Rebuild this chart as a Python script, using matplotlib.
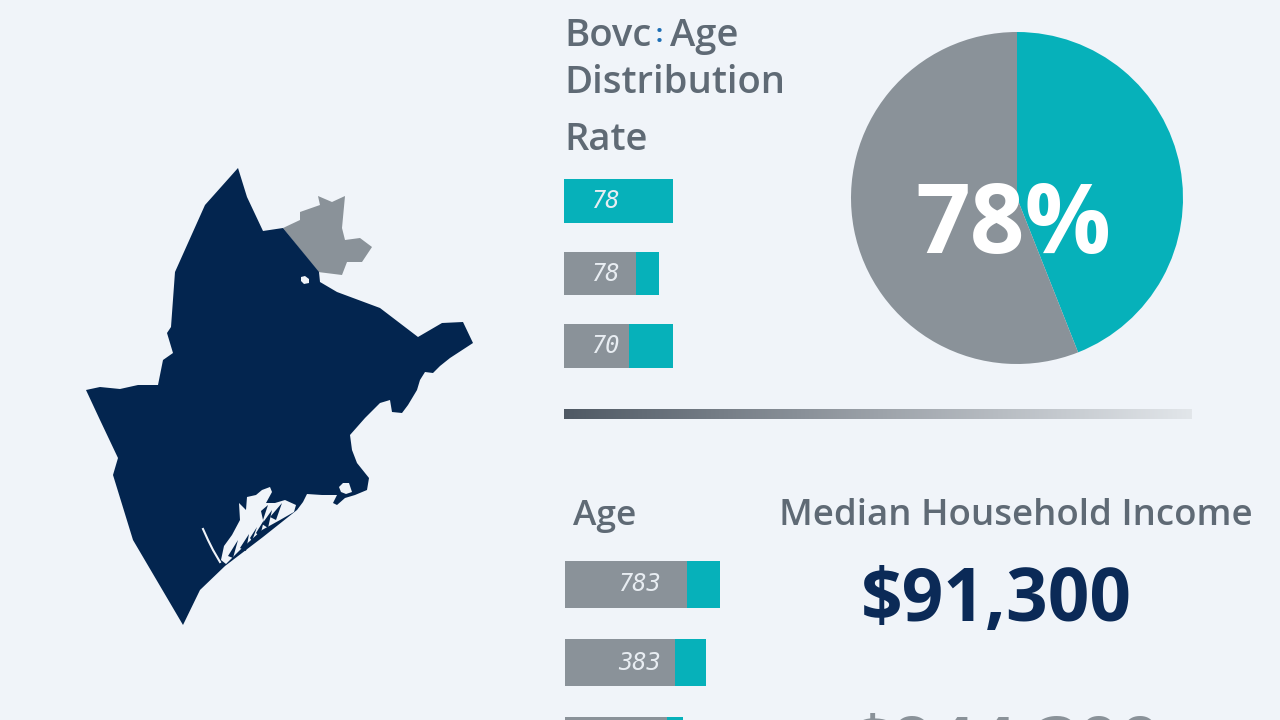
# -*- coding: utf-8 -*-
"""Age distribution / income infographic, rebuilt with matplotlib."""
import numpy as np
import matplotlib
matplotlib.use('Agg')
import matplotlib.pyplot as plt

W, H = 1280, 720
BG = '#F0F4F9'
NAVY = '#03254F'
GRAY = '#8A9299'
TEAL = '#06B1BA'
TXT = '#5F6A75'

# pie: teal share / gray share
pie_values = [44, 56]

# bars, gray part then teal part
rate_gray = [0, 72, 65]
rate_teal = [109, 23, 44]
rate_labels = ['78', '78', '70']
age_gray = [122, 110, 102]
age_teal = [33, 31, 16]
age_labels = ['783', '383', '']

# map outlines (image pixels)
map_x = [238, 247, 263, 283, 319, 320, 337, 380, 418, 442, 463, 473, 450, 440, 433, 425, 420, 417,
         408, 402, 392, 390, 380, 365, 350, 352, 357, 369, 367, 355, 345, 337, 333, 337, 322, 307,
         303, 297, 263, 225, 200, 183, 133, 113,
         118, 100, 86, 100, 120, 138, 158, 163, 173, 167, 171, 175, 205]
map_y = [168, 197, 231, 228, 272, 282, 292, 308, 337, 323, 322, 343, 358, 366, 373, 372, 380, 390,
         405, 413, 412, 400, 403, 418, 435, 450, 463, 478, 490, 495, 498, 505, 503, 495, 495, 494,
         502, 510, 537, 566, 590, 625, 540, 475,
         458, 420, 390, 387, 389, 385, 385, 360, 353, 333, 327, 272, 205]
inset_x = [283, 300, 300, 320, 318, 332, 345, 342, 345, 360, 372, 362, 347, 342, 318]
inset_y = [228, 220, 212, 205, 196, 202, 196, 228, 240, 238, 247, 262, 262, 275, 272]
lake_x = [301, 305, 309, 309, 304, 301]
lake_y = [277, 276, 279, 283, 284, 281]
pocket_x = [339, 343, 349, 352, 346, 341]
pocket_y = [487, 483, 483, 492, 494, 492]
bay_x = [221, 224, 232, 240, 239, 246, 247, 256, 262, 270, 272, 266, 275, 285, 296, 294, 280, 262, 240, 226]
bay_y = [560, 546, 535, 520, 503, 510, 497, 495, 490, 487, 492, 503, 503, 500, 505, 512, 520, 530, 550, 564]
isle_x = [[228, 238, 233], [240, 249, 246], [250, 257, 252], [256, 264, 260], [262, 272, 268], [270, 282, 276], [261, 268, 263]]
isle_y = [[556, 540, 558], [548, 534, 551], [538, 527, 541], [533, 520, 537], [524, 510, 528], [517, 503, 520], [511, 505, 520]]
creek_x = [203, 208, 213, 220]
creek_y = [529, 540, 550, 562]


def pixel_axes(fig, x0, y0, x1, y1):
    # axes placed with image pixels, y counted from the top
    return fig.add_axes([x0 / W, 1 - y1 / H, (x1 - x0) / W, (y1 - y0) / H])


def draw_bars(ax, gray, teal, labels, xmax, label_x):
    ys = np.arange(len(gray))
    ax.barh(ys, gray, height=0.6, color=GRAY)
    ax.barh(ys, teal, left=gray, height=0.6, color=TEAL)
    for y, lab in zip(ys, labels):
        ax.text(label_x, y, lab, color='#E8EDF2', fontsize=17, style='italic',
                family='DejaVu Sans Mono', va='center', ha='center')
    ax.set_xlim(0, xmax)
    ax.set_ylim(len(gray) - 0.5, -0.5)
    ax.axis('off')


fig = plt.figure(figsize=(W / 100, H / 100), dpi=100, facecolor=BG)
plt.rcParams['font.family'] = ['Open Sans', 'DejaVu Sans']

base = fig.add_axes([0, 0, 1, 1])
base.set_xlim(0, W)
base.set_ylim(H, 0)
base.axis('off')

# map, inset county goes under the main shape
base.fill(inset_x, inset_y, color=GRAY, lw=0)
base.fill(map_x, map_y, color=NAVY, lw=0)
base.fill(lake_x, lake_y, color=BG, lw=0)
base.fill(pocket_x, pocket_y, color=BG, lw=0)
base.fill(bay_x, bay_y, color=BG, lw=0)
base.plot(creek_x, creek_y, color=BG, lw=1.5)
for xs, ys in zip(isle_x, isle_y):
    base.fill(xs, ys, color=NAVY, lw=0)

# headings
base.text(564, 36, 'Bovc', fontsize=27.5, weight='semibold', color=TXT, va='center')
base.text(656, 36, ':', fontsize=18, weight='bold', color='#1F6FB5', va='center')
base.text(670, 36, 'Age', fontsize=27.5, weight='semibold', color=TXT, va='center')
base.text(564, 83, 'Distribution', fontsize=27.5, weight='semibold', color=TXT, va='center')
base.text(564, 140, 'Rate', fontsize=27.5, weight='semibold', color=TXT, va='center')
base.text(573, 516, 'Age', fontsize=25.5, weight='semibold', color=TXT, va='center')
base.text(1016, 516, 'Median Household Income', fontsize=26.4, weight='semibold',
          color=TXT, va='center', ha='center')
base.text(996, 602, '$91,300', fontsize=52.5, weight='bold', color='#0B2A57', va='center', ha='center')
base.text(1007, 749, '$944,300', fontsize=52, weight='bold', color=GRAY, va='center', ha='center')

# pie
ax_pie = pixel_axes(fig, 851, 32, 1183, 364)
ax_pie.pie(pie_values, colors=[TEAL, GRAY], startangle=90, counterclock=False, radius=1.0,
           wedgeprops={'lw': 0})
ax_pie.set_xlim(-1, 1)
ax_pie.set_ylim(-1, 1)
base.text(1013, 228, '78%', fontsize=69, weight='bold', color='white', va='center', ha='center', zorder=5)
ax_pie.set_zorder(1)
base.set_zorder(2)
base.patch.set_alpha(0)

# bars
ax_rate = pixel_axes(fig, 564, 165, 684, 382)
draw_bars(ax_rate, rate_gray, rate_teal, rate_labels, 120, 42)
ax_age = pixel_axes(fig, 565, 545, 735, 780)
draw_bars(ax_age, age_gray, age_teal, age_labels, 170, 75)

# divider with fading gradient
ax_div = pixel_axes(fig, 564, 409, 1192, 419)
shade = np.linspace(0, 1, 256)[None, :]
ax_div.imshow(shade, aspect='auto', cmap=matplotlib.colors.LinearSegmentedColormap.from_list(
    'fade', ['#4F5964', '#9CA2A9', '#E2E6EA']))
ax_div.axis('off')

fig.savefig('out.png', dpi=100, facecolor=BG)
